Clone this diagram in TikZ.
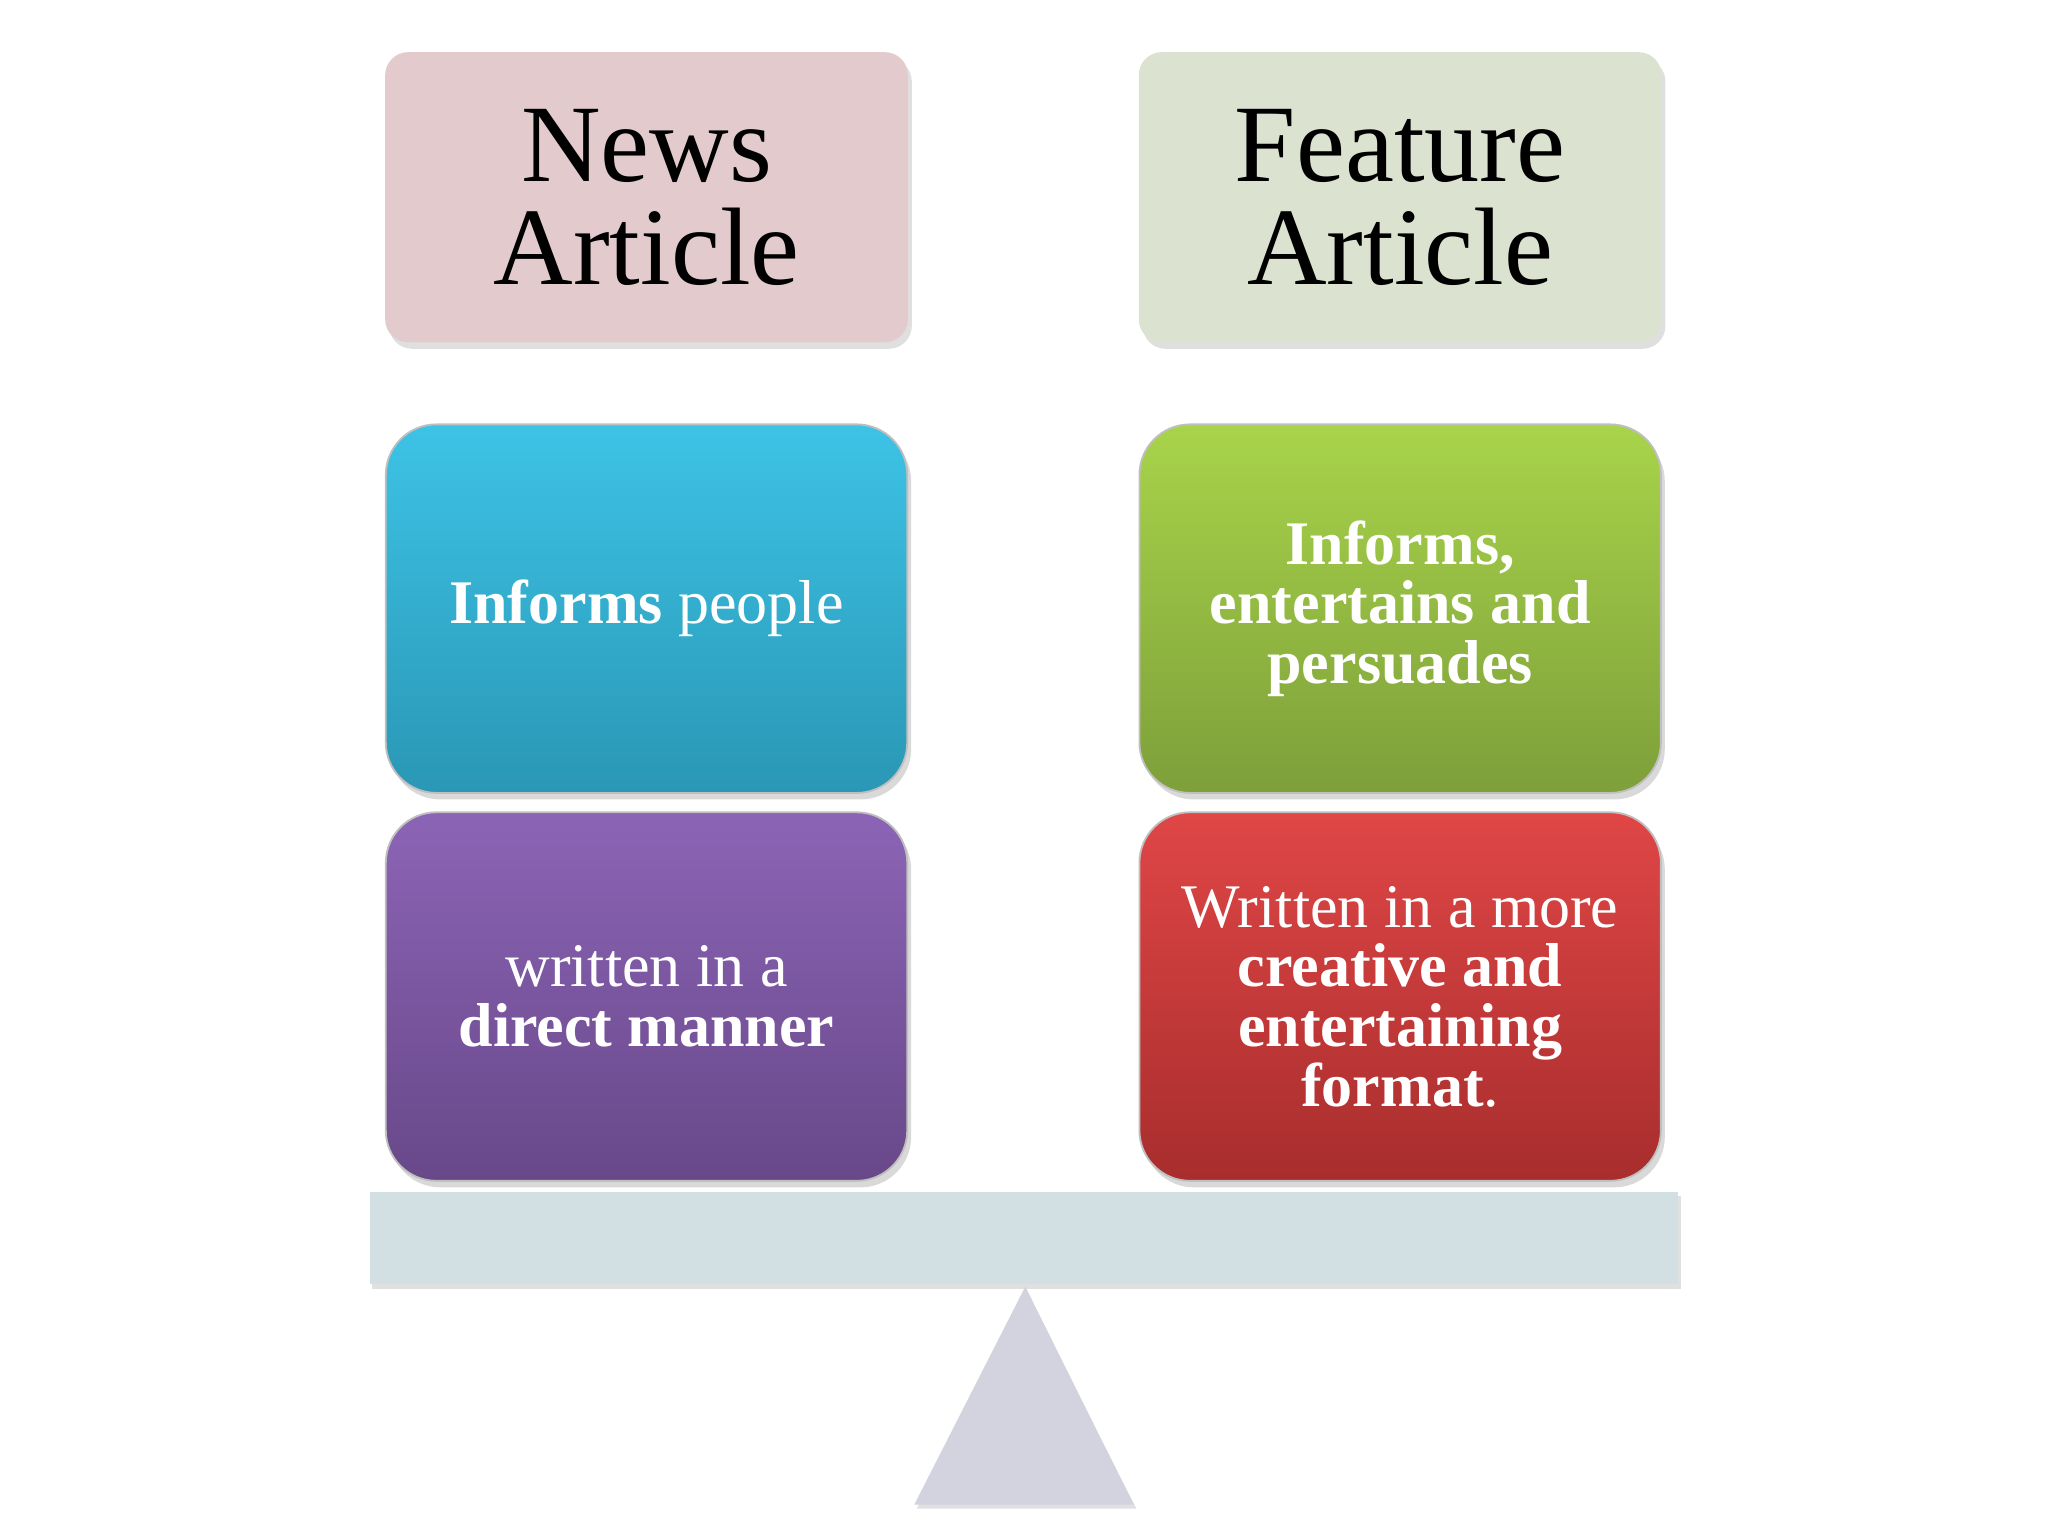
\documentclass[tikz,border=0pt]{standalone}
\usepackage{fontspec}
\setmainfont{Liberation Serif}
\usetikzlibrary{shadows}
\definecolor{pinkb}{HTML}{E3CBCD}
\definecolor{greyg}{HTML}{DCE2D0}
\definecolor{cyanT}{HTML}{3DC3E6}\definecolor{cyanB}{HTML}{2A97B5}
\definecolor{grnT}{HTML}{A8D44A}\definecolor{grnB}{HTML}{7E9F3A}
\definecolor{purT}{HTML}{8C64B6}\definecolor{purB}{HTML}{684889}
\definecolor{redT}{HTML}{E04646}\definecolor{redB}{HTML}{A82D2D}
\definecolor{beamc}{HTML}{D2E0E3}\definecolor{triC}{HTML}{D3D3DF}
\tikzset{
 head/.style={rounded corners=5pt,minimum width=4.0cm,minimum height=2.22cm,align=center,font=\fontsize{24}{22.5}\selectfont,drop shadow={opacity=0.25,shadow xshift=0.3mm,shadow yshift=-0.5mm},text=black},
 body/.style={rounded corners=11pt,minimum width=3.99cm,minimum height=2.82cm,align=center,text=white,font=\fontsize{13.5}{13}\selectfont,draw=black!25,line width=0.4pt,drop shadow={opacity=0.3,shadow xshift=0.3mm,shadow yshift=-0.5mm}}
}
\begin{document}
\begin{tikzpicture}[x=0.01cm,y=-0.01cm]
\useasboundingbox (0,0) rectangle (1568,1176);
\node[head,fill=pinkb] (news) at (495,151) {News\\Article};
\node[head,fill=greyg] (feat) at (1072,151) {Feature\\Article};
\node[body,top color=cyanT,bottom color=cyanB] (inf) at (495,466) {\textbf{Informs} people};
\node[body,top color=grnT,bottom color=grnB] (inf2) at (1072,466) {\textbf{Informs,}\\\textbf{entertains and}\\\textbf{persuades}};
\node[body,top color=purT,bottom color=purB] (dir) at (495,763) {written in a\\\textbf{direct manner}};
\node[body,top color=redT,bottom color=redB] (cre) at (1072,763) {Written in a more\\\textbf{creative and}\\\textbf{entertaining}\\\textbf{format}.};
\fill[black!12] (285,916) rectangle (1287,987);
\fill[beamc] (283,913) rectangle (1285,983);
\fill[black!12] (785,988) -- (870,1155) -- (702,1155) -- cycle;
\fill[triC] (785,985) -- (868,1152) -- (700,1152) -- cycle;
\end{tikzpicture}
\end{document}
